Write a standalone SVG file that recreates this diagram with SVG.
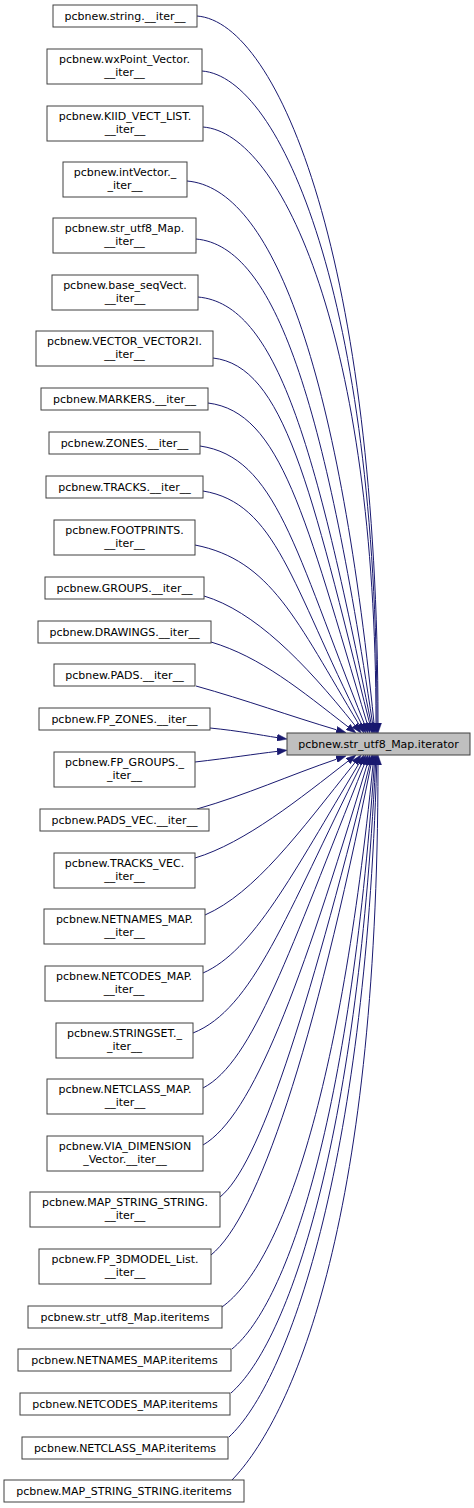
<svg xmlns="http://www.w3.org/2000/svg" width="474" height="1508" viewBox="0 0 474 1508">
<style>
.n rect{fill:#ffffff;stroke:#404040;stroke-width:1}
.n.t rect{fill:#bfbfbf}
.n text{font-family:"DejaVu Sans",sans-serif;font-size:11px;fill:#000000;text-anchor:middle}
.e path{fill:none;stroke:#191970;stroke-width:1;marker-end:url(#ah)}
</style>
<defs>
<marker id="ah" viewBox="0 0 10 7" refX="0" refY="3.5" markerWidth="10" markerHeight="7" markerUnits="userSpaceOnUse" orient="auto">
<path d="M0,0 L10,3.5 L0,7 z" fill="#191970" stroke="#191970" stroke-width="0.5"/>
</marker>
</defs>
<rect width="474" height="1508" fill="#ffffff"/>
<g id="edges" class="e">
<path d="M197,16 C279,22 378,263 378,723"/>
<path d="M202,71 C281,77 377,300 377,723"/>
<path d="M203,127 C282,133 376,340 376,723"/>
<path d="M187,181 C272,188 338,366 374,723"/>
<path d="M196,239 C276,246 325,406 372.5,723"/>
<path d="M198,297 C277,304 315.5,446 371,723"/>
<path d="M213,358 C284,366 310.6,487 369.6,723.3"/>
<path d="M208,403 C281,412 305.5,518 367.1,723.4"/>
<path d="M200,446 C276,457 295,550 364.3,723.7"/>
<path d="M203,491 C276,503 291.3,584 361.5,724.1"/>
<path d="M195,545 C271,560 296.2,620 358.9,724.4"/>
<path d="M204,596 C254,611 303.6,661 354.8,725.2"/>
<path d="M211,642 C261,657 300.5,690 348.1,726.9"/>
<path d="M196,686 C246,700 290,716 336.5,729.8"/>
<path d="M210,728 C240,731 260,735 277.1,737.6"/>
<path d="M195,762 C230,758 255,754 277.1,751.4"/>
<path d="M197,809 C246,795 290,775 336.5,759.2"/>
<path d="M195,858 C245,843 300.5,798 348.1,761.1"/>
<path d="M205,915 C255,893 298.8,833 354.8,762.8"/>
<path d="M203,973 C253,951 292,875 358.9,763.6"/>
<path d="M193,1033 C253,1009 285.5,916 361.5,763.9"/>
<path d="M203,1088 C253,1062 290,950 364.3,764.3"/>
<path d="M203,1145 C253,1116 301,985 367.1,764.6"/>
<path d="M220,1197 C259,1166 306.6,1017 369.6,764.7"/>
<path d="M211,1255 C258,1217 314,1049 371,764.8"/>
<path d="M222,1307 C283,1263 340.7,1088 373,765"/>
<path d="M232,1349 C289,1302 349.8,1114 374.3,765"/>
<path d="M231,1393 C289,1342 356.6,1141 375.5,765"/>
<path d="M229,1437 C288,1382 364.6,1168 376.7,765"/>
<path d="M232,1480 C290,1420 378,1230 378,765"/>
</g>
<g id="target" class="n t"><rect x="287" y="733" width="183" height="22"/><text x="378.5" y="748">pcbnew.str_utf8_Map.iterator</text></g>
<g id="n1" class="n"><rect x="53" y="5" width="144" height="22"/><text x="125" y="20">pcbnew.string.__iter__</text></g>
<g id="n2" class="n"><rect x="47" y="49" width="155" height="35"/><text x="124.5" y="63">pcbnew.wxPoint_Vector.</text><text x="124.5" y="76">__iter__</text></g>
<g id="n3" class="n"><rect x="47" y="106" width="156" height="35"/><text x="125" y="120">pcbnew.KIID_VECT_LIST.</text><text x="125" y="133">__iter__</text></g>
<g id="n4" class="n"><rect x="63" y="162" width="124" height="35"/><text x="125" y="176">pcbnew.intVector._</text><text x="125" y="189">_iter__</text></g>
<g id="n5" class="n"><rect x="53" y="218" width="143" height="35"/><text x="124.5" y="232">pcbnew.str_utf8_Map.</text><text x="124.5" y="245">__iter__</text></g>
<g id="n6" class="n"><rect x="52" y="275" width="146" height="35"/><text x="125" y="289">pcbnew.base_seqVect.</text><text x="125" y="302">__iter__</text></g>
<g id="n7" class="n"><rect x="36" y="331" width="177" height="35"/><text x="124.5" y="345">pcbnew.VECTOR_VECTOR2I.</text><text x="124.5" y="358">__iter__</text></g>
<g id="n8" class="n"><rect x="41" y="388" width="167" height="22"/><text x="124.5" y="403">pcbnew.MARKERS.__iter__</text></g>
<g id="n9" class="n"><rect x="49" y="432" width="151" height="22"/><text x="124.5" y="447">pcbnew.ZONES.__iter__</text></g>
<g id="n10" class="n"><rect x="46" y="476" width="157" height="22"/><text x="124.5" y="491">pcbnew.TRACKS.__iter__</text></g>
<g id="n11" class="n"><rect x="54" y="520" width="141" height="35"/><text x="124.5" y="534">pcbnew.FOOTPRINTS.</text><text x="124.5" y="547">__iter__</text></g>
<g id="n12" class="n"><rect x="45" y="577" width="159" height="22"/><text x="124.5" y="592">pcbnew.GROUPS.__iter__</text></g>
<g id="n13" class="n"><rect x="38" y="621" width="173" height="22"/><text x="124.5" y="636">pcbnew.DRAWINGS.__iter__</text></g>
<g id="n14" class="n"><rect x="54" y="664" width="141" height="22"/><text x="124.5" y="679">pcbnew.PADS.__iter__</text></g>
<g id="n15" class="n"><rect x="39" y="708" width="171" height="22"/><text x="124.5" y="723">pcbnew.FP_ZONES.__iter__</text></g>
<g id="n16" class="n"><rect x="54" y="752" width="141" height="35"/><text x="124.5" y="766">pcbnew.FP_GROUPS._</text><text x="124.5" y="779">_iter__</text></g>
<g id="n17" class="n"><rect x="40" y="809" width="169" height="22"/><text x="124.5" y="824">pcbnew.PADS_VEC.__iter__</text></g>
<g id="n18" class="n"><rect x="54" y="853" width="141" height="35"/><text x="124.5" y="867">pcbnew.TRACKS_VEC.</text><text x="124.5" y="880">__iter__</text></g>
<g id="n19" class="n"><rect x="44" y="909" width="161" height="35"/><text x="124.5" y="923">pcbnew.NETNAMES_MAP.</text><text x="124.5" y="936">__iter__</text></g>
<g id="n20" class="n"><rect x="45" y="966" width="158" height="35"/><text x="124" y="980">pcbnew.NETCODES_MAP.</text><text x="124" y="993">__iter__</text></g>
<g id="n21" class="n"><rect x="56" y="1023" width="137" height="35"/><text x="124.5" y="1037">pcbnew.STRINGSET._</text><text x="124.5" y="1050">_iter__</text></g>
<g id="n22" class="n"><rect x="47" y="1079" width="156" height="35"/><text x="125" y="1093">pcbnew.NETCLASS_MAP.</text><text x="125" y="1106">__iter__</text></g>
<g id="n23" class="n"><rect x="47" y="1136" width="156" height="35"/><text x="125" y="1150">pcbnew.VIA_DIMENSION</text><text x="125" y="1163">_Vector.__iter__</text></g>
<g id="n24" class="n"><rect x="30" y="1192" width="190" height="35"/><text x="125" y="1206">pcbnew.MAP_STRING_STRING.</text><text x="125" y="1219">__iter__</text></g>
<g id="n25" class="n"><rect x="39" y="1249" width="172" height="35"/><text x="125" y="1263">pcbnew.FP_3DMODEL_List.</text><text x="125" y="1276">__iter__</text></g>
<g id="n26" class="n"><rect x="28" y="1306" width="194" height="22"/><text x="125" y="1321">pcbnew.str_utf8_Map.iteritems</text></g>
<g id="n27" class="n"><rect x="18" y="1349" width="213" height="22"/><text x="124.5" y="1364">pcbnew.NETNAMES_MAP.iteritems</text></g>
<g id="n28" class="n"><rect x="20" y="1393" width="210" height="22"/><text x="125" y="1408">pcbnew.NETCODES_MAP.iteritems</text></g>
<g id="n29" class="n"><rect x="22" y="1437" width="206" height="22"/><text x="125" y="1452">pcbnew.NETCLASS_MAP.iteritems</text></g>
<g id="n30" class="n"><rect x="4" y="1480" width="240" height="22"/><text x="124" y="1495">pcbnew.MAP_STRING_STRING.iteritems</text></g>
</svg>
